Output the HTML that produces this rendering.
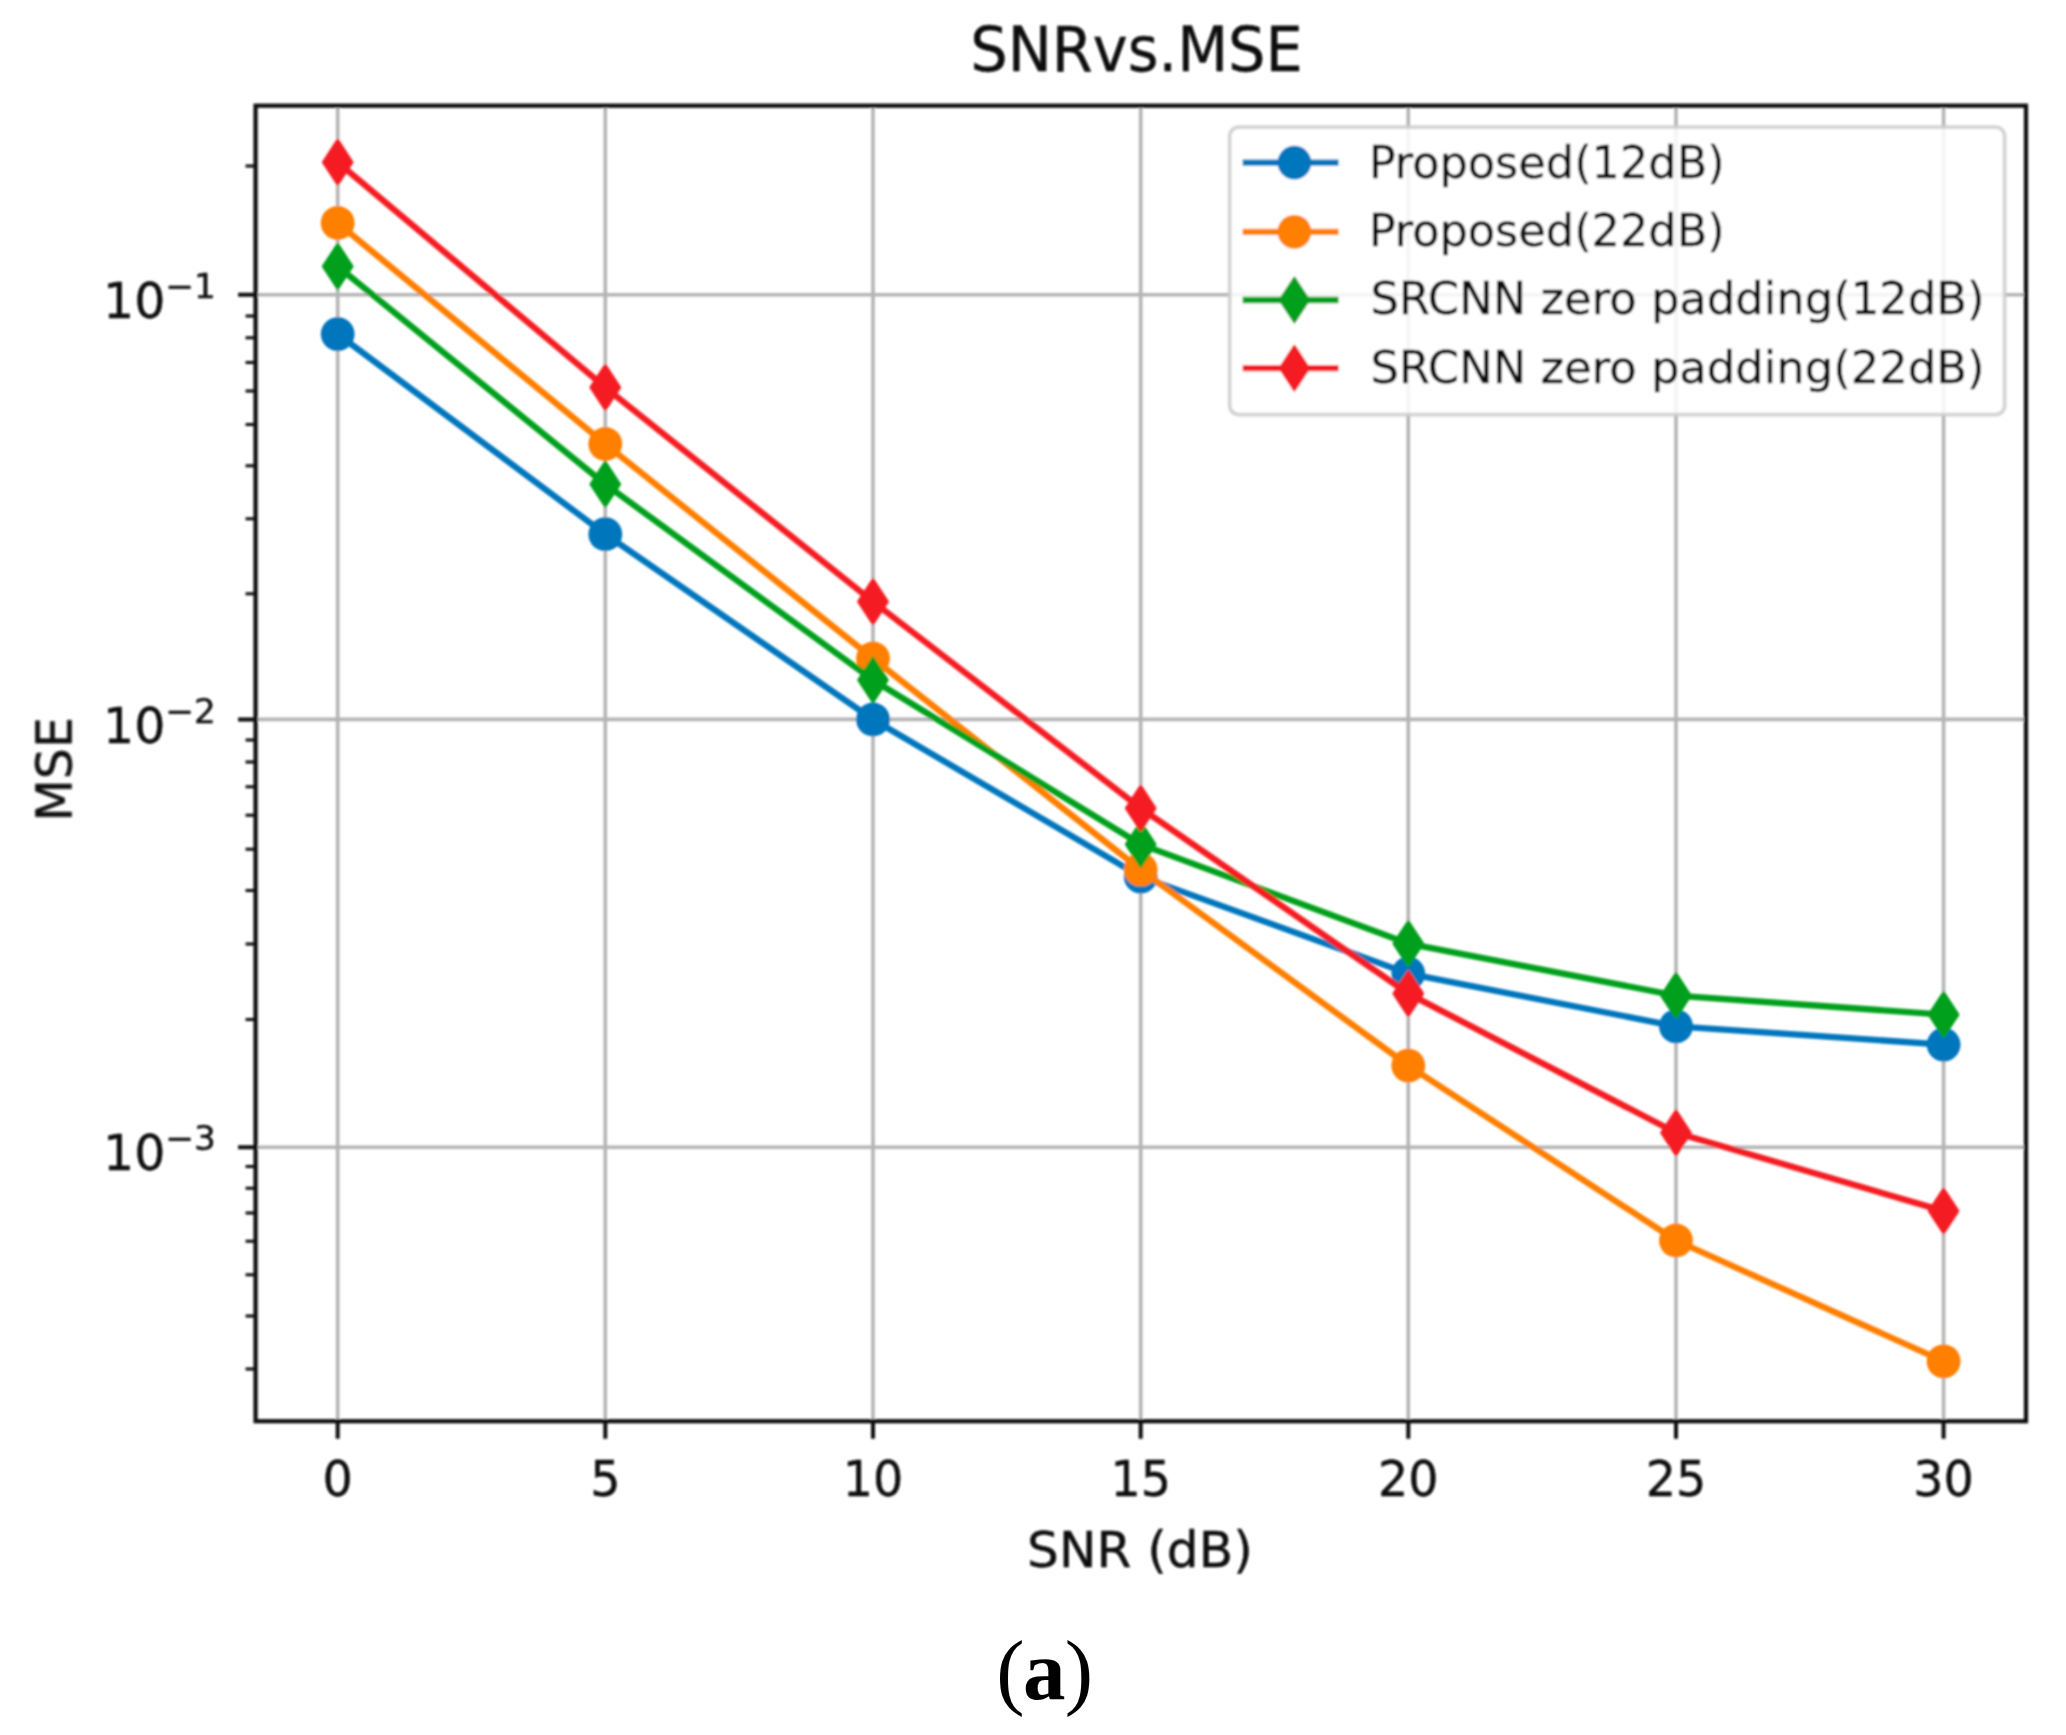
<!DOCTYPE html>
<html lang="en"><head><meta charset="utf-8"><title>SNRvs.MSE</title>
<style>html,body{margin:0;padding:0;background:#fff}body{width:2066px;height:1735px;overflow:hidden}</style></head>
<body>
<svg width="2066" height="1735" viewBox="0 0 2066 1735" style="display:block" font-family="'DejaVu Sans', 'Liberation Sans', sans-serif" fill="#0a0a0a" stroke="#0a0a0a" stroke-width="0">
<rect width="2066" height="1735" fill="#ffffff"/>
<defs><filter id="soft" filterUnits="userSpaceOnUse" x="0" y="0" width="2066" height="1735"><feGaussianBlur stdDeviation="0.9"/></filter></defs>
<g filter="url(#soft)">
<path d="M337.7 105.7 V1421.2 M605.3 105.7 V1421.2 M873.0 105.7 V1421.2 M1140.7 105.7 V1421.2 M1408.3 105.7 V1421.2 M1676.0 105.7 V1421.2 M1943.6 105.7 V1421.2 M255.6 294.8 H2026.0 M255.6 719.4 H2026.0 M255.6 1147.2 H2026.0" stroke="#b4b4b4" stroke-width="3.6" fill="none"/>
<path d="M337.7 1421.2 v17.5 M605.3 1421.2 v17.5 M873.0 1421.2 v17.5 M1140.7 1421.2 v17.5 M1408.3 1421.2 v17.5 M1676.0 1421.2 v17.5 M1943.6 1421.2 v17.5 M255.6 294.8 h-17.5 M255.6 719.4 h-17.5 M255.6 1147.2 h-17.5" stroke="#0d0d0d" stroke-width="4" fill="none"/>
<path d="M255.6 166.0 h-10 M255.6 593.7 h-10 M255.6 518.8 h-10 M255.6 465.7 h-10 M255.6 424.5 h-10 M255.6 390.9 h-10 M255.6 362.4 h-10 M255.6 337.8 h-10 M255.6 316.0 h-10 M255.6 1019.4 h-10 M255.6 944.1 h-10 M255.6 890.6 h-10 M255.6 849.2 h-10 M255.6 815.3 h-10 M255.6 786.7 h-10 M255.6 761.9 h-10 M255.6 740.0 h-10 M255.6 1368.9 h-10 M255.6 1315.9 h-10 M255.6 1274.8 h-10 M255.6 1241.3 h-10 M255.6 1212.9 h-10 M255.6 1188.3 h-10 M255.6 1166.6 h-10" stroke="#0d0d0d" stroke-width="3" fill="none"/>
<clipPath id="ax"><rect x="255.6" y="105.7" width="1770.4" height="1315.5"/></clipPath>
<g clip-path="url(#ax)">
<polyline points="337.7,334.1 605.3,534.2 873.0,719.5 1140.7,876.6 1408.3,973.6 1676.0,1026.3 1943.6,1044.6" fill="none" stroke="#0476bd" stroke-width="6.3" stroke-linejoin="round" stroke-linecap="square"/>
<circle cx="337.7" cy="334.1" r="16.9" fill="#0476bd"/>
<circle cx="605.3" cy="534.2" r="16.9" fill="#0476bd"/>
<circle cx="873.0" cy="719.5" r="16.9" fill="#0476bd"/>
<circle cx="1140.7" cy="876.6" r="16.9" fill="#0476bd"/>
<circle cx="1408.3" cy="973.6" r="16.9" fill="#0476bd"/>
<circle cx="1676.0" cy="1026.3" r="16.9" fill="#0476bd"/>
<circle cx="1943.6" cy="1044.6" r="16.9" fill="#0476bd"/>
<polyline points="337.7,223.0 605.3,444.0 873.0,658.5 1140.7,869.7 1408.3,1065.6 1676.0,1240.5 1943.6,1361.3" fill="none" stroke="#ff7f06" stroke-width="6.3" stroke-linejoin="round" stroke-linecap="square"/>
<circle cx="337.7" cy="223.0" r="16.9" fill="#ff7f06"/>
<circle cx="605.3" cy="444.0" r="16.9" fill="#ff7f06"/>
<circle cx="873.0" cy="658.5" r="16.9" fill="#ff7f06"/>
<circle cx="1140.7" cy="869.7" r="16.9" fill="#ff7f06"/>
<circle cx="1408.3" cy="1065.6" r="16.9" fill="#ff7f06"/>
<circle cx="1676.0" cy="1240.5" r="16.9" fill="#ff7f06"/>
<circle cx="1943.6" cy="1361.3" r="16.9" fill="#ff7f06"/>
<polyline points="337.7,266.4 605.3,484.2 873.0,680.0 1140.7,844.4 1408.3,943.6 1676.0,995.6 1943.6,1014.6" fill="none" stroke="#06a01c" stroke-width="6.3" stroke-linejoin="round" stroke-linecap="square"/>
<polygon points="337.7,244.6 352.0,266.4 337.7,288.2 323.4,266.4" fill="#06a01c" stroke="#06a01c" stroke-width="3" stroke-linejoin="round"/>
<polygon points="605.3,462.4 619.6,484.2 605.3,506.0 591.0,484.2" fill="#06a01c" stroke="#06a01c" stroke-width="3" stroke-linejoin="round"/>
<polygon points="873.0,658.2 887.3,680.0 873.0,701.8 858.7,680.0" fill="#06a01c" stroke="#06a01c" stroke-width="3" stroke-linejoin="round"/>
<polygon points="1140.7,822.6 1155.0,844.4 1140.7,866.2 1126.4,844.4" fill="#06a01c" stroke="#06a01c" stroke-width="3" stroke-linejoin="round"/>
<polygon points="1408.3,921.8 1422.6,943.6 1408.3,965.4 1394.0,943.6" fill="#06a01c" stroke="#06a01c" stroke-width="3" stroke-linejoin="round"/>
<polygon points="1676.0,973.8 1690.2,995.6 1676.0,1017.4 1661.7,995.6" fill="#06a01c" stroke="#06a01c" stroke-width="3" stroke-linejoin="round"/>
<polygon points="1943.6,992.8 1957.9,1014.6 1943.6,1036.4 1929.3,1014.6" fill="#06a01c" stroke="#06a01c" stroke-width="3" stroke-linejoin="round"/>
<polyline points="337.7,162.2 605.3,387.4 873.0,601.6 1140.7,808.2 1408.3,993.6 1676.0,1132.8 1943.6,1211.0" fill="none" stroke="#f41c22" stroke-width="6.3" stroke-linejoin="round" stroke-linecap="square"/>
<polygon points="337.7,140.4 352.0,162.2 337.7,184.0 323.4,162.2" fill="#f41c22" stroke="#f41c22" stroke-width="3" stroke-linejoin="round"/>
<polygon points="605.3,365.6 619.6,387.4 605.3,409.2 591.0,387.4" fill="#f41c22" stroke="#f41c22" stroke-width="3" stroke-linejoin="round"/>
<polygon points="873.0,579.8 887.3,601.6 873.0,623.4 858.7,601.6" fill="#f41c22" stroke="#f41c22" stroke-width="3" stroke-linejoin="round"/>
<polygon points="1140.7,786.4 1155.0,808.2 1140.7,830.0 1126.4,808.2" fill="#f41c22" stroke="#f41c22" stroke-width="3" stroke-linejoin="round"/>
<polygon points="1408.3,971.8 1422.6,993.6 1408.3,1015.4 1394.0,993.6" fill="#f41c22" stroke="#f41c22" stroke-width="3" stroke-linejoin="round"/>
<polygon points="1676.0,1111.0 1690.2,1132.8 1676.0,1154.6 1661.7,1132.8" fill="#f41c22" stroke="#f41c22" stroke-width="3" stroke-linejoin="round"/>
<polygon points="1943.6,1189.2 1957.9,1211.0 1943.6,1232.8 1929.3,1211.0" fill="#f41c22" stroke="#f41c22" stroke-width="3" stroke-linejoin="round"/>
</g>
<rect x="255.6" y="105.7" width="1770.4" height="1315.5" fill="none" stroke="#0d0d0d" stroke-width="4.2"/>
<text stroke-width="0.35" x="322.6" y="1495.6" font-size="49.0" textLength="30.3" lengthAdjust="spacingAndGlyphs">0</text>
<text stroke-width="0.35" x="590.2" y="1495.6" font-size="49.0" textLength="30.3" lengthAdjust="spacingAndGlyphs">5</text>
<text stroke-width="0.35" x="842.7" y="1495.6" font-size="49.0" textLength="60.6" lengthAdjust="spacingAndGlyphs">10</text>
<text stroke-width="0.35" x="1110.4" y="1495.6" font-size="49.0" textLength="60.6" lengthAdjust="spacingAndGlyphs">15</text>
<text stroke-width="0.35" x="1378.0" y="1495.6" font-size="49.0" textLength="60.6" lengthAdjust="spacingAndGlyphs">20</text>
<text stroke-width="0.35" x="1645.7" y="1495.6" font-size="49.0" textLength="60.6" lengthAdjust="spacingAndGlyphs">25</text>
<text stroke-width="0.35" x="1913.3" y="1495.6" font-size="49.0" textLength="60.6" lengthAdjust="spacingAndGlyphs">30</text>
<text stroke-width="0.35" x="103" y="318.0" font-size="49.0">10<tspan font-size="34.30" dy="-20">−1</tspan></text>
<text stroke-width="0.35" x="103" y="742.6" font-size="49.0">10<tspan font-size="34.30" dy="-20">−2</tspan></text>
<text stroke-width="0.35" x="103" y="1170.4" font-size="49.0">10<tspan font-size="34.30" dy="-20">−3</tspan></text>
<text stroke-width="0.35" x="1139.9" y="1566.5" font-size="50.2" text-anchor="middle">SNR (dB)</text>
<text stroke-width="0.35" transform="translate(71.5,769.3) rotate(-90)" font-size="49.0" text-anchor="middle">MSE</text>
<text stroke-width="0.35" x="970.3" y="71.3" font-size="61.5" textLength="332.5" lengthAdjust="spacingAndGlyphs">SNRvs.MSE</text>
<rect x="1229.7" y="127.2" width="774.8999999999999" height="287.40000000000003" rx="9" ry="9" fill="#ffffff" fill-opacity="0.85" stroke="#cccccc" stroke-opacity="0.85" stroke-width="3.8"/>
<path d="M1245.8 162.6 H1335.4" stroke="#0476bd" stroke-width="6.3" stroke-linecap="square" fill="none"/>
<circle cx="1294.4" cy="162.6" r="16.9" fill="#0476bd"/>
<text stroke-width="0.35" x="1368.7" y="177.9" font-size="44.75" textLength="356.0" lengthAdjust="spacingAndGlyphs">Proposed(12dB)</text>
<path d="M1245.8 231.8 H1335.4" stroke="#ff7f06" stroke-width="6.3" stroke-linecap="square" fill="none"/>
<circle cx="1294.4" cy="231.8" r="16.9" fill="#ff7f06"/>
<text stroke-width="0.35" x="1368.7" y="246.0" font-size="44.75" textLength="356.0" lengthAdjust="spacingAndGlyphs">Proposed(22dB)</text>
<path d="M1245.8 300.0 H1335.4" stroke="#06a01c" stroke-width="6.3" stroke-linecap="square" fill="none"/>
<polygon points="1294.4,278.2 1308.7,300.0 1294.4,321.8 1280.1,300.0" fill="#06a01c" stroke="#06a01c" stroke-width="3" stroke-linejoin="round"/>
<text stroke-width="0.35" x="1370.4" y="314.2" font-size="44.75" textLength="614.2" lengthAdjust="spacingAndGlyphs">SRCNN zero padding(12dB)</text>
<path d="M1245.8 368.2 H1335.4" stroke="#f41c22" stroke-width="6.3" stroke-linecap="square" fill="none"/>
<polygon points="1294.4,346.4 1308.7,368.2 1294.4,390.0 1280.1,368.2" fill="#f41c22" stroke="#f41c22" stroke-width="3" stroke-linejoin="round"/>
<text stroke-width="0.35" x="1370.4" y="382.5" font-size="44.75" textLength="614.2" lengthAdjust="spacingAndGlyphs">SRCNN zero padding(22dB)</text>
</g>
<text stroke-width="0" y="1699.3" font-size="85" fill="#000" font-family="'Liberation Serif', 'DejaVu Serif', serif"><tspan x="996.2">(</tspan><tspan x="1023.1" font-weight="bold">a</tspan><tspan x="1064.8">)</tspan></text>
</svg>
</body></html>
